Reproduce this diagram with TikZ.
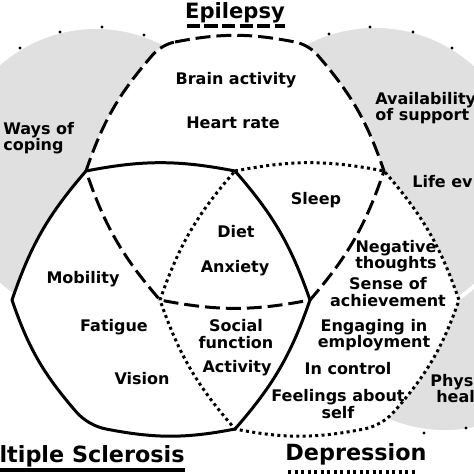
\documentclass[tikz,border=0pt]{standalone}
\usepackage{fontspec}
\setmainfont{DejaVu Sans}
\usetikzlibrary{calc}
\definecolor{cgray}{RGB}{224,224,224}
\begin{document}
\begin{tikzpicture}[x=0.02cm,y=-0.02cm,
  hexline/.style={line width=1.7pt, line join=round},
  epiline/.style={hexline, dash pattern=on 8.5pt off 3.4pt},
  msline/.style={hexline},
  depline/.style={hexline, dash pattern=on 1.7pt off 1.9pt},
  bgcirc/.style={fill=cgray, draw=white, line width=2.2pt},
  lbl/.style={font=\fontsize{9.1}{9.3}\selectfont\bfseries, align=center, inner sep=0pt},
  ttl/.style={font=\fontsize{12.7}{14}\selectfont\bfseries, inner sep=0pt},
  bb/.style={bend left=11}]
\useasboundingbox (0,0) rectangle (474,474);
% background circles
\draw[bgcirc] (445,285) circle (147);
\draw[bgcirc] (96,174) circle (147);
\draw[bgcirc] (375,175) circle (149);
\foreach \p in {(20,48),(60,32),(102,27),(144,35),(329,34),(370,27),(413,32),(452,48),(424,433),(466,428)}
  \fill \p circle (1.7);
% hexagon vertices
\coordinate (E1) at (160,42);  \coordinate (E2) at (310,42);
\coordinate (E3) at (384,171); \coordinate (E4) at (310,300);
\coordinate (E5) at (160,300); \coordinate (E6) at (86,171);
\coordinate (M1) at (86,171);  \coordinate (M2) at (235,171);
\coordinate (M3) at (310,300); \coordinate (M4) at (235,429);
\coordinate (M5) at (86,429);  \coordinate (M6) at (12,300);
\coordinate (D1) at (235,171); \coordinate (D2) at (384,171);
\coordinate (D3) at (459,300); \coordinate (D4) at (384,429);
\coordinate (D5) at (235,429); \coordinate (D6) at (160,300);
\coordinate (E1a) at ($(E1)!0.3cm!(E2)$); \coordinate (E1b) at ($(E1)!0.3cm!(E6)$);
\coordinate (E2a) at ($(E2)!0.3cm!(E1)$); \coordinate (E2b) at ($(E2)!0.3cm!(E3)$);
\coordinate (M5a) at ($(M5)!0.4cm!(M4)$); \coordinate (M5b) at ($(M5)!0.4cm!(M6)$);
\coordinate (D4a) at ($(D4)!0.4cm!(D3)$); \coordinate (D4b) at ($(D4)!0.4cm!(D5)$);
% rounded corner control points
\coordinate (E1k1) at ($(E1b)!0.17cm!-11:(E1)$); \coordinate (E1k2) at ($(E1a)!0.17cm!11:(E1)$);
\coordinate (E2k1) at ($(E2a)!0.17cm!-11:(E2)$); \coordinate (E2k2) at ($(E2b)!0.17cm!11:(E2)$);
\coordinate (M5k1) at ($(M5a)!0.23cm!-11:(M5)$); \coordinate (M5k2) at ($(M5b)!0.23cm!11:(M5)$);
\coordinate (D4k1) at ($(D4a)!0.23cm!-11:(D4)$); \coordinate (D4k2) at ($(D4b)!0.23cm!11:(D4)$);
\newcommand\hexE{(E1a) to[bb] (E2a) .. controls (E2k1) and (E2k2) .. (E2b) to[bb] (E3) to[bb] (E4) to[bb] (E5) to[bb] (E6) to[bb] (E1b) .. controls (E1k1) and (E1k2) .. (E1a) -- cycle}
\newcommand\hexM{(M1) to[bb] (M2) to[bb] (M3) to[bb] (M4) to[bb] (M5a) .. controls (M5k1) and (M5k2) .. (M5b) to[bb] (M6) to[bb] (M1) -- cycle}
\newcommand\hexD{(D1) to[bb] (D2) to[bb] (D3) to[bb] (D4a) .. controls (D4k1) and (D4k2) .. (D4b) to[bb] (D5) to[bb] (D6) to[bb] (D1) -- cycle}
\fill[white] \hexE;
\fill[white] \hexM;
\fill[white] \hexD;
\draw[epiline] \hexE;
\draw[msline] \hexM;
\draw[depline] \hexD;
% labels
\node[lbl] (brain) at (236,80) {Brain activity};
\node[lbl] (heart) at (233,123) {Heart rate};
\node[lbl, anchor=west, align=left] (ways) at (3,138) {Ways of\\coping};
\node[lbl, anchor=west, align=left] (avail) at (375,108) {Availability\\of support};
\node[lbl, anchor=west] (life) at (412,182) {Life ev};
\node[lbl] (sleep) at (316,200) {Sleep};
\node[lbl] (diet) at (236,232) {Diet};
\node[lbl] (anx) at (235,268) {Anxiety};
\node[lbl] (mob) at (83,279) {Mobility};
\node[lbl] (fat) at (114,327) {Fatigue};
\node[lbl] (vis) at (142,379) {Vision};
\node[lbl] (soc) at (236,334) {Social\\function};
\node[lbl] (act) at (237,368) {Activity};
\node[lbl] (neg) at (396,256) {Negative\\thoughts};
\node[lbl] (sense) at (388,292) {Sense of\\achievement};
\node[lbl] (eng) at (374,335) {Engaging in\\employment};
\node[lbl] (ctrl) at (348,369) {In control};
\node[lbl] (feel) at (338,404) {Feelings about\\self};
\node[lbl, anchor=west] (phys) at (430,382) {Phys};
\node[lbl, anchor=west] (heal) at (436,397) {heal};
% titles
\node[ttl, font=\fontsize{12}{14}\selectfont\bfseries, anchor=base] (ept) at (235,18) {Epilepsy};
\draw[line width=2.2pt, dash pattern=on 7.5pt off 2.5pt] ([yshift=-0.16cm,xshift=0.04cm]ept.base west) -- ([yshift=-0.16cm]ept.base east);
\node[ttl, anchor=base east] (mst) at (185,462) {ltiple Sclerosis};
\draw[line width=2.3pt] ([yshift=-0.16cm]mst.base west) -- ([yshift=-0.16cm]mst.base east);
\node[ttl, anchor=base] (dpt) at (356,460) {Depression};
\draw[line width=3.5pt, dash pattern=on 1.7pt off 2pt] ([yshift=-0.26cm,xshift=0.06cm]dpt.base west) -- ([yshift=-0.26cm,xshift=-0.2cm]dpt.base east);
\end{tikzpicture}
\end{document}
